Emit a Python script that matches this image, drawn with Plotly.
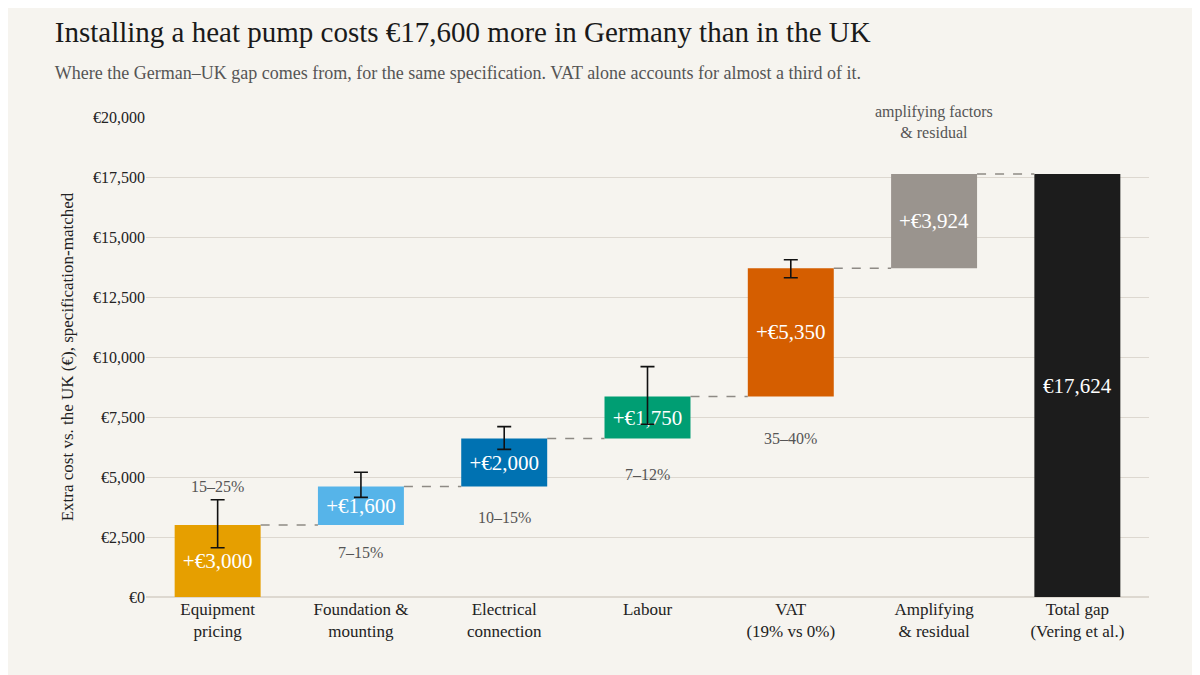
import plotly.graph_objects as go

categories = ["Equipment<br>pricing", "Foundation &<br>mounting", "Electrical<br>connection",
              "Labour", "VAT<br>(19% vs 0%)", "Amplifying<br>& residual", "Total gap<br>(Vering et al.)"]
bases = [0, 3000, 4600, 6600, 8350, 13700, 0]
heights = [3000, 1600, 2000, 1750, 5350, 3924, 17624]
bar_labels = ["+€3,000", "+€1,600", "+€2,000", "+€1,750", "+€5,350", "+€3,924", "€17,624"]
colors = ["#E69F00", "#56B4E9", "#0072B2", "#009E73", "#D55E00", "#9A948E", "#1C1C1C"]
err_low = [2050, 4150, 6150, 7200, 13300]
err_high = [4050, 5200, 7100, 9600, 14050]
share_labels = ["15–25%", "7–15%", "10–15%", "7–12%", "35–40%", "amplifying factors<br>& residual"]
share_y = [4600, 1850, 3300, 5100, 6600, 19800]

FONT = "Liberation Serif"
fig = go.Figure()
fig.add_trace(go.Bar(
    x=categories, y=heights, base=bases, width=0.6,
    marker=dict(color=colors, line=dict(width=0)),
    text=bar_labels, textposition="inside", insidetextanchor="middle",
    textfont=dict(color="white", size=21, family=FONT), showlegend=False,
    hoverinfo="skip",
))

# connectors
for i in range(len(categories) - 1):
    top = bases[i] + heights[i]
    fig.add_shape(type="line", xref="x", yref="y", x0=i + 0.3, x1=i + 0.7, y0=top, y1=top,
                  line=dict(color="#8E8A85", width=1.5, dash="dash"))

# uncertainty ranges
tops = [bases[i] + heights[i] for i in range(5)]
fig.add_trace(go.Scatter(
    x=categories[:5], y=tops, mode="markers", marker=dict(size=0.1, color="rgba(0,0,0,0)"),
    error_y=dict(type="data", symmetric=False,
                 array=[h - t for h, t in zip(err_high, tops)],
                 arrayminus=[t - l for l, t in zip(err_low, tops)],
                 color="#111111", thickness=1.6, width=7),
    showlegend=False, hoverinfo="skip",
))

for i, (lab, yv) in enumerate(zip(share_labels, share_y)):
    fig.add_annotation(x=categories[i], y=yv, text=lab, showarrow=False,
                       font=dict(size=16, color="#555555", family=FONT))

fig.update_layout(
    width=1200, height=675,
    paper_bgcolor="#F6F4EF", plot_bgcolor="#F6F4EF",
    margin=dict(l=138, r=59, t=109, b=86),
    font=dict(family=FONT, color="#222222"),
    title=dict(text="Installing a heat pump costs €17,600 more in Germany than in the UK"
                    "<br><span style='font-size:18px;color:#555555'>Where the German–UK gap comes from, "
                    "for the same specification. VAT alone accounts for almost a third of it.</span>",
               x=0.039, xanchor="left", y=0.95, yanchor="top", font=dict(size=29, color="#1a1a1a")),
    bargap=0.4,
)
fig.update_xaxes(tickfont=dict(size=17, color="#222222"), showgrid=False, showline=False, ticks="")
fig.update_yaxes(range=[0, 20000], dtick=2500, tickprefix="€", tickformat=",",
                 gridcolor="#DDD8D0", zeroline=True, zerolinecolor="#DDD8D0",
                 tickfont=dict(size=16, color="#222222"),
                 title=dict(text="Extra cost vs. the UK (€), specification-matched", font=dict(size=17)))

fig.write_html("out.html")
